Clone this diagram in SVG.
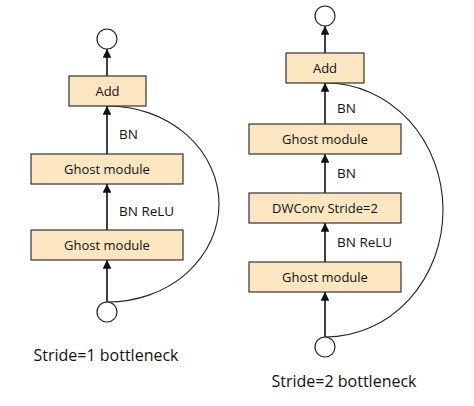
<svg xmlns="http://www.w3.org/2000/svg" width="474" height="406" viewBox="0 0 474 406">
<style>
.box{fill:#FCE6C1;stroke:#333;stroke-width:1.2}
.circ{fill:#fff;stroke:#222;stroke-width:1.2}
.arr{stroke:#111;stroke-width:1.6;fill:none;marker-end:url(#ah)}
.skip{stroke:#222;stroke-width:1.1;fill:none}
.t{font-family:"Open Sans","Noto Sans",sans-serif;font-size:13px;fill:#111;text-anchor:middle}
.l{font-family:"Open Sans","Noto Sans",sans-serif;font-size:13.5px;fill:#111}
.cap{font-family:"Open Sans","Noto Sans",sans-serif;font-size:16px;fill:#111;text-anchor:middle}
</style>
<defs>
<marker id="ah" viewBox="0 0 10 10" refX="10" refY="5" markerWidth="5.5" markerHeight="5.5" orient="auto" markerUnits="strokeWidth">
<path d="M0,0 L10,5 L0,10 Z" fill="#111"/>
</marker>
</defs>
<rect width="474" height="406" fill="#fff"/>
<g id="connectors">
<line class="arr" x1="107" y1="302" x2="107" y2="260"/>
<line class="arr" x1="107" y1="230" x2="107" y2="184"/>
<line class="arr" x1="107" y1="154" x2="107" y2="106"/>
<line class="arr" x1="107" y1="76" x2="107" y2="49"/>
<path class="skip" d="M108,302 A111,98 0 0 0 108,106"/>
<line class="arr" x1="325" y1="337" x2="325" y2="292"/>
<line class="arr" x1="325" y1="262" x2="325" y2="223"/>
<line class="arr" x1="325" y1="193" x2="325" y2="154"/>
<line class="arr" x1="325" y1="124" x2="325" y2="83"/>
<line class="arr" x1="325" y1="53" x2="325" y2="26"/>
<path class="skip" d="M326,337 A117,127 0 0 0 326,83"/>
<text class="l" x="119" y="139">BN</text>
<text class="l" x="119" y="216">BN ReLU</text>
<text class="l" x="337" y="113">BN</text>
<text class="l" x="337" y="178">BN</text>
<text class="l" x="337" y="247">BN ReLU</text>
</g>
<g id="l_out"><circle class="circ" cx="107" cy="39" r="10"/></g>
<g id="l_add"><rect class="box" x="69" y="76" width="77" height="30"/><text class="t" x="107.5" y="96">Add</text></g>
<g id="l_ghost1"><rect class="box" x="31" y="154" width="152" height="30"/><text class="t" x="107" y="174">Ghost module</text></g>
<g id="l_ghost2"><rect class="box" x="31" y="230" width="152" height="30"/><text class="t" x="107" y="250">Ghost module</text></g>
<g id="l_in"><circle class="circ" cx="107" cy="312" r="10"/></g>
<g id="l_caption"><text class="cap" x="106" y="361">Stride=1 bottleneck</text></g>
<g id="r_out"><circle class="circ" cx="325" cy="16" r="10"/></g>
<g id="r_add"><rect class="box" x="286" y="53" width="78" height="30"/><text class="t" x="325" y="73">Add</text></g>
<g id="r_ghost1"><rect class="box" x="249" y="124" width="152" height="30"/><text class="t" x="325" y="144">Ghost module</text></g>
<g id="r_dw"><rect class="box" x="249" y="193" width="152" height="30"/><text class="t" x="325" y="213">DWConv Stride=2</text></g>
<g id="r_ghost2"><rect class="box" x="249" y="262" width="152" height="30"/><text class="t" x="325" y="282">Ghost module</text></g>
<g id="r_in"><circle class="circ" cx="325" cy="347" r="10"/></g>
<g id="r_caption"><text class="cap" x="344" y="387">Stride=2 bottleneck</text></g>
</svg>
